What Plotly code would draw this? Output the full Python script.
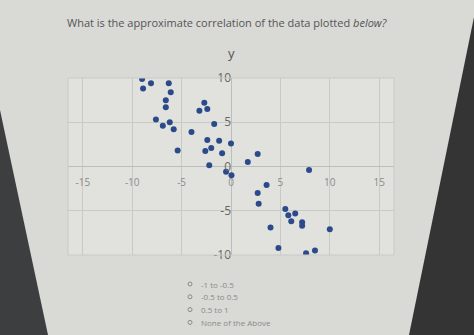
import plotly.graph_objects as go

# data
x_vals = [-9.0, -8.1, -8.9, -6.3, -6.1, -6.6, -6.6, -7.6, -6.9, -6.2, -5.8, -5.4, -4.0,
          -2.7, -2.4, -3.2, -1.7, -2.4, -1.2, -2.0, -2.6, -0.9, 0.0, -2.2, -0.5, 0.05,
          1.7, 2.7, 7.9, 3.6, 2.7, 2.8, 5.5, 5.8, 6.5, 6.1, 7.2, 7.2, 4.0, 10.0, 4.8, 7.6, 8.5]
y_vals = [9.9, 9.4, 8.8, 9.4, 8.4, 7.5, 6.7, 5.3, 4.6, 5.0, 4.2, 1.8, 3.9,
          7.2, 6.5, 6.3, 4.8, 3.0, 2.9, 2.1, 1.75, 1.5, 2.6, 0.15, -0.6, -1.0,
          0.5, 1.4, -0.4, -2.1, -3.0, -4.2, -4.8, -5.5, -5.3, -6.2, -6.3, -6.7, -6.9, -7.1, -9.2, -9.8, -9.5]
x_ticks = [-15, -10, -5, 0, 5, 10, 15]
y_ticks = [-10, -5, 0, 5, 10]
question = "What is the approximate correlation of the data plotted <i>below?</i>"
options = ["-1 to -0.5", "-0.5 to 0.5", "0.5 to 1", "None of the Above"]

W, H = 474, 335
L, R, T, B = 68, 80, 78, 80
pw, ph = W - L - R, H - T - B

def px(xp):
    return (xp - L) / pw

def py(yp):
    return (H - B - yp) / ph

fig = go.Figure()
fig.add_trace(go.Scatter(x=x_vals, y=y_vals, mode="markers",
                         marker=dict(size=6, color="#2b4a8a"), hoverinfo="skip"))

grid = "#c9c9c6"
fig.update_layout(
    width=W, height=H,
    margin=dict(l=L, r=R, t=T, b=B),
    paper_bgcolor="#d9d9d5",
    plot_bgcolor="#e1e2de",
    showlegend=False,
    font=dict(family="Open Sans, Liberation Sans, sans-serif", color="#666"),
    xaxis=dict(range=[-16.5, 16.5], tickvals=x_ticks, ticktext=[str(v) for v in x_ticks],
               showgrid=True, gridcolor=grid, gridwidth=1, zeroline=True, zerolinecolor="#bdbdba",
               zerolinewidth=1, anchor="free", position=0.5, showline=False, ticks="",
               ticklabelstandoff=8, tickfont=dict(size=10, color="#8a8a8a")),
    yaxis=dict(range=[-10, 10], tickvals=y_ticks, ticktext=[str(v) for v in y_ticks],
               showgrid=True, gridcolor=grid, gridwidth=1, zeroline=True, zerolinecolor="#bdbdba",
               zerolinewidth=1, anchor="free", position=0.5, showline=False, ticks="",
               tickfont=dict(size=12, color="#666")),
)

shapes = [
    dict(type="rect", xref="paper", yref="paper", x0=0, x1=1, y0=0, y1=1,
         line=dict(color=grid, width=1)),
    # dark screen edges
    dict(type="path", xref="paper", yref="paper",
         path=f"M {px(0)} {py(110)} L {px(48)} {py(335)} L {px(0)} {py(335)} Z",
         fillcolor="#3c3e40", line=dict(width=0), layer="above"),
    dict(type="path", xref="paper", yref="paper",
         path=f"M {px(474)} {py(17)} L {px(409)} {py(335)} L {px(474)} {py(335)} Z",
         fillcolor="#343434", line=dict(width=0), layer="above"),
]
ann = [
    dict(x=px(227), y=py(22), text=question, showarrow=False, xref="paper", yref="paper",
         font=dict(size=11, color="#555"), xanchor="center", yanchor="middle"),
    dict(x=px(231), y=py(53), text="y", showarrow=False, xref="paper", yref="paper",
         font=dict(size=13, color="#555"), xanchor="center", yanchor="middle"),
]
for i, t in enumerate(options):
    yy = 284 + i * 12.8
    shapes.append(dict(type="circle", xref="paper", yref="paper",
                       x0=px(188), x1=px(192), y0=py(yy + 2), y1=py(yy - 2),
                       line=dict(color="#8a8a8a", width=1)))
    ann.append(dict(x=px(199), y=py(yy), text=t, showarrow=False, xref="paper", yref="paper",
                    font=dict(size=8, color="#8a8a8a"), xanchor="left", yanchor="middle"))
fig.update_layout(shapes=shapes, annotations=ann)

fig.write_html("out.html")
